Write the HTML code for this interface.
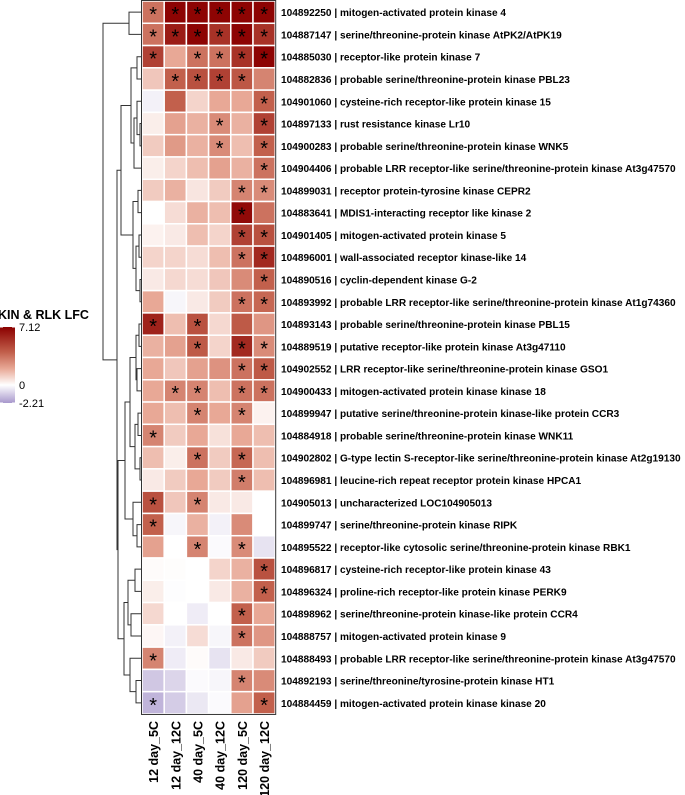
<!DOCTYPE html>
<html><head><meta charset="utf-8"><style>
body{margin:0;background:#fff;}
svg{display:block;font-family:"Liberation Sans",Arial,sans-serif;}
</style></head><body>
<svg id="c" width="685" height="795" xmlns="http://www.w3.org/2000/svg"></svg>
<script>
const columns=["12 day_5C","12 day_12C","40 day_5C","40 day_12C","120 day_5C","120 day_12C"];
const rowLabels=["104892250 | mitogen-activated protein kinase 4","104887147 | serine/threonine-protein kinase AtPK2/AtPK19","104885030 | receptor-like protein kinase 7","104882836 | probable serine/threonine-protein kinase PBL23","104901060 | cysteine-rich receptor-like protein kinase 15","104897133 | rust resistance kinase Lr10","104900283 | probable serine/threonine-protein kinase WNK5","104904406 | probable LRR receptor-like serine/threonine-protein kinase At3g47570","104899031 | receptor protein-tyrosine kinase CEPR2","104883641 | MDIS1-interacting receptor like kinase 2","104901405 | mitogen-activated protein kinase 5","104896001 | wall-associated receptor kinase-like 14","104890516 | cyclin-dependent kinase G-2","104893992 | probable LRR receptor-like serine/threonine-protein kinase At1g74360","104893143 | probable serine/threonine-protein kinase PBL15","104889519 | putative receptor-like protein kinase At3g47110","104902552 | LRR receptor-like serine/threonine-protein kinase GSO1","104900433 | mitogen-activated protein kinase kinase 18","104899947 | putative serine/threonine-protein kinase-like protein CCR3","104884918 | probable serine/threonine-protein kinase WNK11","104902802 | G-type lectin S-receptor-like serine/threonine-protein kinase At2g19130","104896981 | leucine-rich repeat receptor protein kinase HPCA1","104905013 | uncharacterized LOC104905013","104899747 | serine/threonine-protein kinase RIPK","104895522 | receptor-like cytosolic serine/threonine-protein kinase RBK1","104896817 | cysteine-rich receptor-like protein kinase 43","104896324 | proline-rich receptor-like protein kinase PERK9","104898962 | serine/threonine-protein kinase-like protein CCR4","104888757 | mitogen-activated protein kinase 9","104888493 | probable LRR receptor-like serine/threonine-protein kinase At3g47570","104892193 | serine/threonine/tyrosine-protein kinase HT1","104884459 | mitogen-activated protein kinase kinase 20"];
const values=[
[3.5,7,7,7,7,7],[3.5,6.2,7,5.5,7,5.5],[5,2,3.5,3.5,5.5,7],[1.3,4,4.5,5,4.3,3],
[-0.3,4,1,2,2,4],[0.4,2.2,1.8,2.8,1.8,5],[1.2,2.4,1.8,2.8,1.5,4],[0.4,1,1.5,2.2,1.8,3.5],
[1.2,1.8,0.6,1.2,3,2.8],[0,0.8,1.8,1.5,6.8,3.5],[0.3,0.5,1.5,1,5,4.5],[1,1,0.8,1.5,3.5,5.8],
[0.5,0.9,0.8,1.3,2.8,4],[2,-0.2,0.5,1.2,3.5,3.8],[6,1.5,4.5,0.9,4.2,2.5],[1.8,2.2,4.2,1,5.8,2.8],
[2,1.3,2.2,2.6,3.5,4.2],[2,3,3,1.5,3.5,3.5],[2,1.5,3,2,3,0.3],[3,1.2,2,0.7,2,1.5],
[1.5,0.4,3.5,1.2,3.8,1.5],[0.5,1.2,2,1.2,3.2,1.5],[4.5,1.3,3,0.5,0.5,0],[4,-0.2,1.8,-0.3,2.8,0],
[2.2,0,3,-0.1,2.8,-0.6],[0.1,0.05,0,1,1.8,4.5],[0.4,-0.05,0,0.5,1.8,4],[0.9,0,-0.4,0,4,2],
[0.2,-0.3,0.8,-0.2,3.5,2.5],[3,-0.4,0.1,-0.6,0.5,1.2],[-1.2,-0.9,-0.1,-0.2,3,2.8],[-1.6,-1.1,-0.5,-0.1,2.2,4]];
const stars=[
[1,1,1,1,1,1],[1,1,1,1,1,1],[1,0,1,1,1,1],[0,1,1,1,1,0],[0,0,0,0,0,1],[0,0,0,1,0,1],[0,0,0,1,0,1],[0,0,0,0,0,1],
[0,0,0,0,1,1],[0,0,0,0,1,0],[0,0,0,0,1,1],[0,0,0,0,1,1],[0,0,0,0,0,1],[0,0,0,0,1,1],[1,0,1,0,0,0],[0,0,1,0,1,1],
[0,0,0,0,1,1],[0,1,1,0,1,1],[0,0,1,0,1,0],[1,0,0,0,0,0],[0,0,1,0,1,0],[0,0,0,0,1,0],[1,0,1,0,0,0],[1,0,0,0,0,0],
[0,0,1,0,1,0],[0,0,0,0,0,1],[0,0,0,0,0,1],[0,0,0,0,1,0],[0,0,0,0,1,0],[1,0,0,0,0,0],[0,0,0,0,1,0],[1,0,0,0,0,1]];
const legendTicks=[7.12,0,-2.21];
const vmin=-2.21,vmax=7.12;
const NS="http://www.w3.org/2000/svg";
const svg=document.getElementById('c');
function mk(t,a,p){const e=document.createElementNS(NS,t);for(const k in a)e.setAttribute(k,a[k]);(p||svg).appendChild(e);return e;}
const x0=142,colW=22.2,y0=1,rowH=22.28;
const xs=i=>x0+i*colW, ys=j=>y0+j*rowH;
function lerp(a,b,t){return a.map((v,i)=>Math.round(v+(b[i]-v)*t));}
function color(v){
  const stops=[[vmin,[168,152,204]],[0,[255,255,255]],[2,[232,168,150]],[4,[194,96,76]],[vmax,[139,0,0]]];
  for(let i=0;i<stops.length-1;i++){const [a,ca]=stops[i],[b,cb]=stops[i+1];
    if(v<=b){const t=Math.max(0,Math.min(1,(v-a)/(b-a)));return 'rgb('+lerp(ca,cb,t).join(',')+')';}}
  return 'rgb(139,0,0)';
}
const g=mk('g',{});


values.forEach((row,j)=>row.forEach((v,i)=>{
  const r=mk('rect',{x:xs(i),y:ys(j),width:colW,height:rowH,fill:color(v),stroke:'#fff','stroke-width':1.5},g);
  
  
  if(stars[j][i]){const s=mk('text',{x:xs(i)+colW/2,y:ys(j)+rowH/2+9,'text-anchor':'middle','font-size':20},g);s.textContent='*';
    
    }
}));
const fr=mk('rect',{x:x0-0.5,y:0.5,width:colW*6+1,height:rowH*32+1,fill:'none',stroke:'#333','stroke-width':1});


rowLabels.forEach((l,j)=>{const t=mk('text',{x:281,y:ys(j)+rowH/2+4,'font-size':10.1,'font-weight':'bold'});t.textContent=l;
  
  });
columns.forEach((c,i)=>{const cx=xs(i)+colW/2+5;const t=mk('text',{x:0,y:0,'font-size':12.5,'font-weight':'bold','text-anchor':'end',transform:'translate('+cx+',721) rotate(-90)'});t.textContent=c;
  
  });
const tree=[103,[129,0,1],[117,[121,[131,[137,2,3],[134,[137,4,[140,5,6]],7]],[133,[138,8,9],[136,[139,10,11],[140,12,13]]]],[118,[125,[130,[136,[139,14,15],[137,16,17]],[135,[138,18,19],[140,20,21]]],[133,22,[137,23,24]]],[124,[128,[135,25,26],[131,27,28]],[130,29,[136,30,31]]]]]];
const dg=mk('g',{stroke:'#333','stroke-width':1,fill:'none'});


function draw(n){
  if(typeof n==='number')return {x:141,y:ys(n)+rowH/2};
  const a=draw(n[1]),b=draw(n[2]),x=n[0];
  mk('path',{d:'M'+a.x+' '+a.y+'H'+x+'V'+b.y+'H'+b.x},dg);
  return {x:x,y:(a.y+b.y)/2};
}
draw(tree);
const defs=mk('defs',{});
const lg=mk('linearGradient',{id:'lg',x1:0,y1:0,x2:0,y2:1},defs);
[[7.12,0],[4,0.334],[2,0.549],[0,0.763],[-2.21,1]].forEach(([v,o])=>mk('stop',{offset:o,'stop-color':color(v)},lg));
const lt=mk('text',{x:-2,y:319,'font-size':12.5,'font-weight':'bold'});lt.textContent='KIN & RLK LFC';


const lb=mk('rect',{x:0,y:327,width:15,height:76,fill:'url(#lg)'});


legendTicks.forEach(v=>{const y=327+(vmax-v)/(vmax-vmin)*76;
  mk('line',{x1:0,x2:3,y1:y,y2:y,stroke:'#fff'});mk('line',{x1:12,x2:15,y1:y,y2:y,stroke:'#fff'});
  const t=mk('text',{x:19,y:y+4,'font-size':11});t.textContent=v;
  
  });
</script>
</body></html>
